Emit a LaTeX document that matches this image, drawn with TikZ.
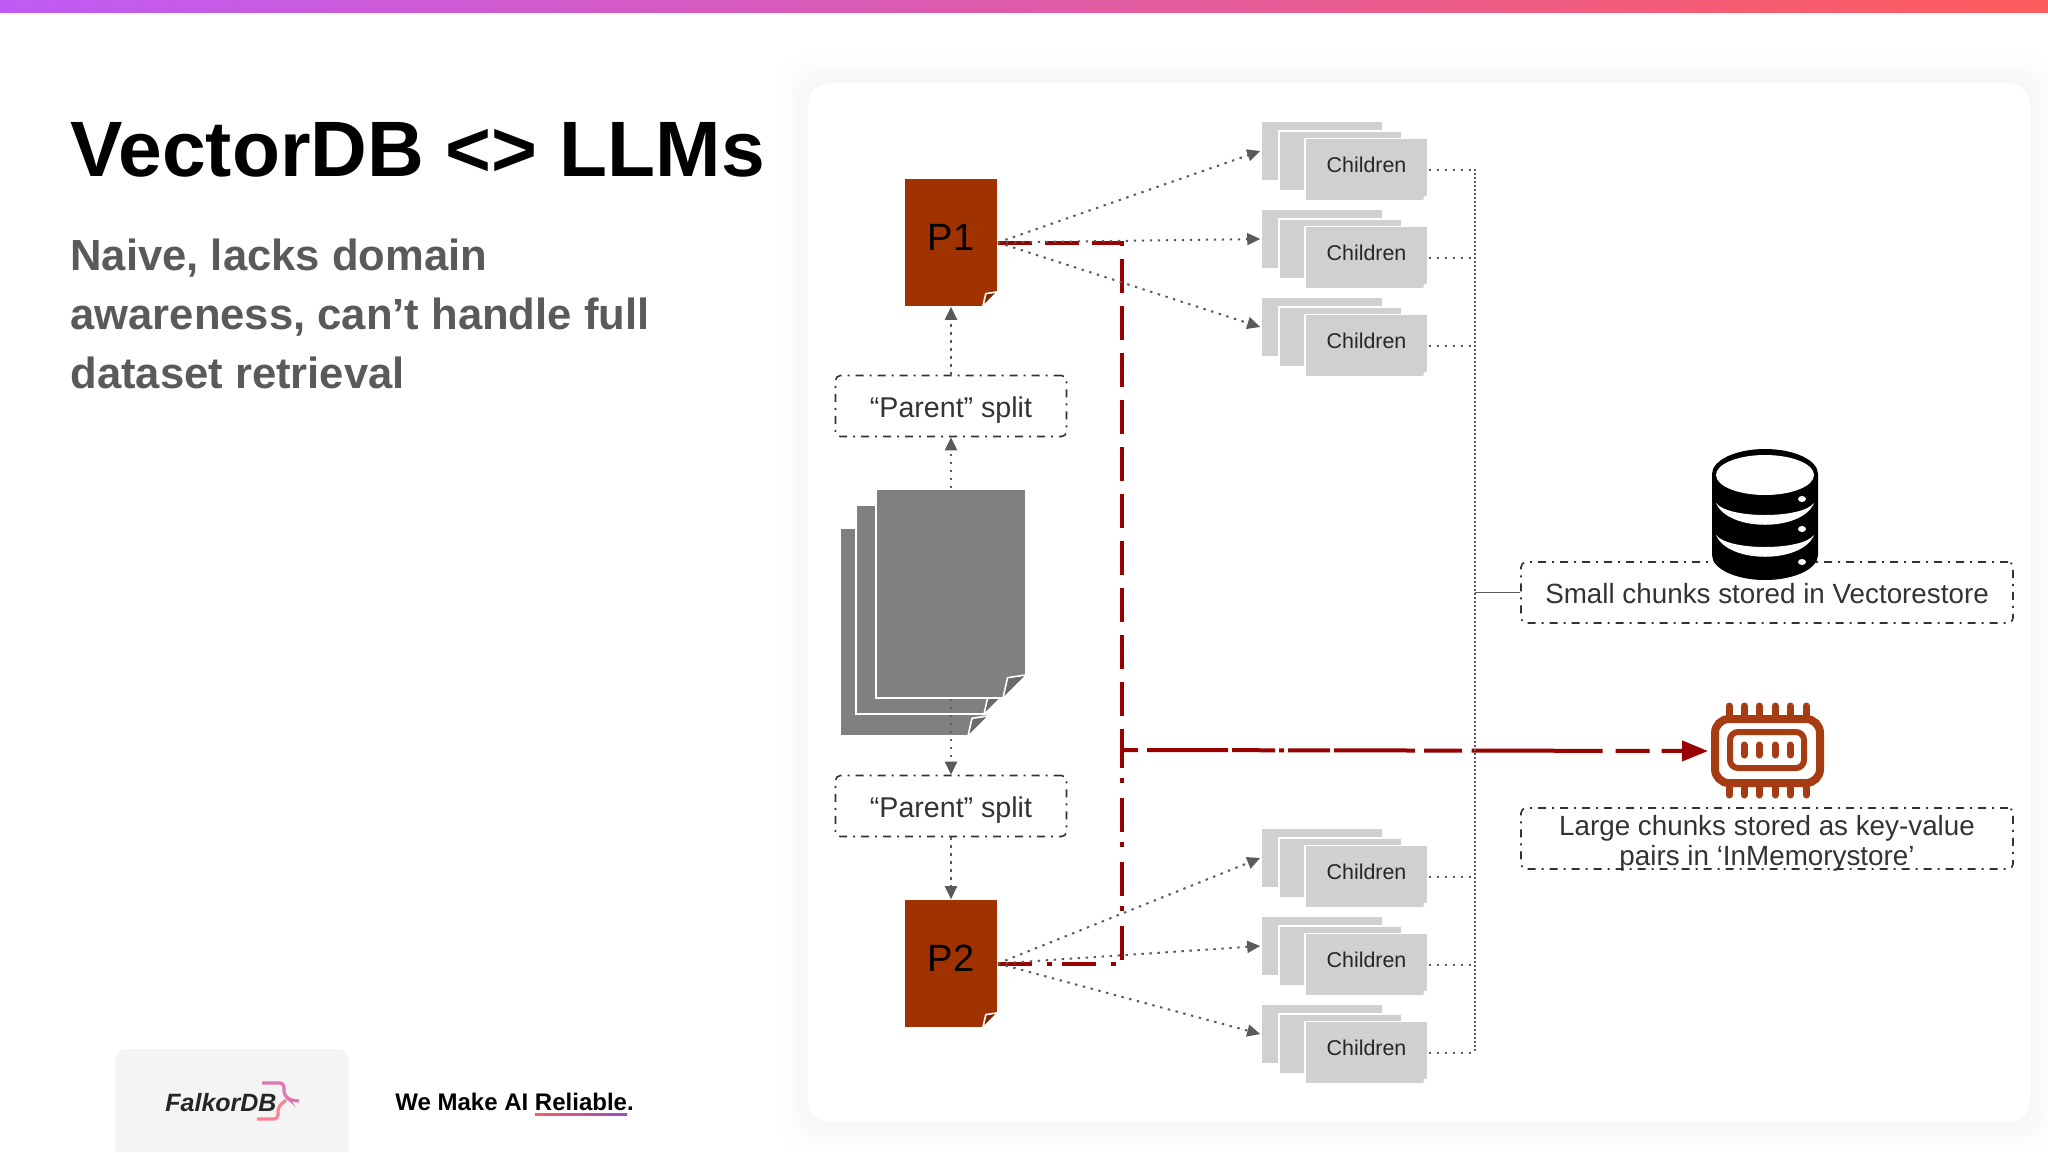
\documentclass[tikz,border=0pt]{standalone}
\usepackage{fontspec}
\setmainfont{Liberation Sans}
\usetikzlibrary{positioning, arrows.meta, calc, backgrounds}

\definecolor{parentred}{HTML}{A03200}
\definecolor{parentfold}{HTML}{7E2700}
\definecolor{chipred}{HTML}{A53C12}
\definecolor{flowred}{HTML}{990000}
\definecolor{docgray}{HTML}{808080}
\definecolor{docfold}{HTML}{6A6A6A}
\definecolor{childgray}{HTML}{D0D0D0}
\definecolor{linegray}{HTML}{5A5A5A}
\definecolor{boxgray}{HTML}{333333}
\definecolor{barleft}{HTML}{BF5BF5}
\definecolor{barmid}{HTML}{E65BA6}
\definecolor{barright}{HTML}{FF5C5C}

% folded corner of a sheet: node, size, colour
\newcommand{\foldcorner}[3]{
    \fill[white] (#1.south east) -- ++(0,-#2) -- ($(#1.south east) + (-#2,0)$) -- cycle;
    \draw[white, fill=#3, line width=0.8pt, line join=round] ($(#1.south east) + (0,-#2)$)
        -- ($(#1.south east) + (-0.8*#2,-0.88*#2)$) -- ($(#1.south east) + (-#2,0)$) -- cycle;
}

\begin{document}
\begin{tikzpicture}[
    x=0.5pt, y=-0.5pt,
    >=Triangle,
    sheet/.style={
        rectangle,
        inner sep=0pt,
        draw=white,
        line width=0.8pt
    },
    parent/.style={
        sheet,
        fill=parentred,
        draw=none,
        minimum width=46pt,
        minimum height=63.5pt,
        text depth=5.2pt,
        font=\fontsize{19}{22}\selectfont,
        text=black
    },
    child/.style={
        sheet,
        fill=childgray,
        minimum width=61pt,
        minimum height=30pt,
    },
    note/.style={
        rectangle,
        draw=boxgray,
        line width=0.8pt,
        dash pattern=on 4pt off 3pt on 1pt off 3pt,
        rounded corners=2.5pt,
        inner sep=0pt,
        align=center,
        text=boxgray,
        font=\fontsize{13.9}{15}\selectfont
    },
    splitbox/.style={
        note,
        minimum width=115.5pt,
        minimum height=30.5pt,
        text height=14.5pt,
        font=\fontsize{14.3}{15}\selectfont
    },
    storebox/.style={
        note,
        minimum width=246pt,
        minimum height=30.5pt
    },
    storetext/.style={
        inner sep=0pt,
        align=center,
        text=boxgray,
        font=\fontsize{13.9}{15}\selectfont
    },
    dots/.style={
        draw=linegray,
        line width=1pt,
        dash pattern=on 1.2pt off 2.8pt
    },
    dotarrow/.style={
        dots,
        -{Triangle[length=6.5pt,width=6pt,fill=linegray]}
    },
    flow/.style={
        draw=flowred,
        line width=2pt
    }
]
    \useasboundingbox (0,0) rectangle (2048,1152);

    % Top bar
    \shade[left color=barleft, middle color=barmid, right color=barright]
        (0,0) rectangle (2048,12);

    % Card and its soft shadow
    \foreach \d/\c in {30/0.4, 25/0.8, 20/1.3, 15/1.8, 10/2.5, 5/3.2} {
        \fill[black!\c, rounded corners=14pt] (808-\d,83-\d) rectangle (2030+\d,1122+\d);
    }
    \fill[white, rounded corners=11pt] (808,83) rectangle (2030,1122);

    % Title
    \node[anchor=base west, inner sep=0pt, font=\fontsize{39.3}{44}\selectfont\bfseries] (title) at (70,176) {VectorDB <> LLMs};
    \node[anchor=north west, inner sep=0pt, align=left, text=linegray, font=\fontsize{21.8}{29.5}\selectfont\bfseries] (subtitle) at (70,238)
        {Naive, lacks domain\\awareness, can’t handle full\\dataset retrieval};

    % Footer
    \fill[black!4.5] (115,1152) [rounded corners=6pt] -- (115,1049) -- (349,1049) [sharp corners] -- (349,1152) -- cycle;
    \node[anchor=base west, inner sep=0pt, text=black!85, font=\fontsize{12.5}{14}\selectfont\bfseries\itshape] (falkor) at (165,1111) {FalkorDB};
    \draw[draw=magenta!60!violet!60!white, line width=1.6pt, rounded corners=2pt] (262,1083) -- (284,1083) -- (284,1095) -- (290,1100) -- (299,1101);
    \draw[draw=orange!60!magenta!70!white, line width=1.6pt, rounded corners=2pt] (257,1119) -- (278,1119) -- (278,1107) -- (286,1100);
    \node[anchor=base west, inner sep=0pt, font=\fontsize{12}{14}\selectfont\bfseries] (slogan) at (395,1110) {We Make AI Reliable.};
    \shade[left color=barright!80!barmid, right color=barleft!80!black] (535,1113) rectangle (627,1115);

    % Source pages
    \node[sheet, fill=docgray, minimum width=74pt, minimum height=104pt] (doc3) at (914,632) {};
    \foldcorner{doc3}{21}{docfold}
    \node[sheet, fill=docgray, minimum width=73.5pt, minimum height=104.5pt] (doc2) at (929.5,609.5) {};
    \foldcorner{doc2}{20}{docfold}
    \node[sheet, fill=docgray, minimum width=75pt, minimum height=104.5pt] (doc1) at (951,593.5) {};
    \foldcorner{doc1}{24}{docfold}

    % Parent chunks
    \node[parent] (p1) at (951,242.5) {P1};
    \foldcorner{p1}{15}{parentfold}
    \node[parent] (p2) at (951,963.5) {P2};
    \foldcorner{p2}{15}{parentfold}

    \node[splitbox] (split1) at (951,406) {“Parent” split};
    \node[splitbox] (split2) at (951,806) {“Parent” split};

    % Children stacks
    \foreach \n/\y in {c1/140, c2/228, c3/316, c4/847, c5/935, c6/1023} {
        \node[child] (\n back) at (1322,\y+11) {};
        \node[child, minimum width=61.5pt] (\n mid) at (1340.5,\y+21) {};
        \node[child, minimum width=61.5pt, minimum height=31pt, text depth=4.6pt, font=\fontsize{10.7}{12}\selectfont, text=black!85] (\n) at (1366.5,\y+29.5) {Children};
        \foldcorner{\n}{5}{childgray}
    }

    % Store boxes
    \node[storebox, text height=11.5pt] (small) at (1767,592.5) {Small chunks stored in Vectorestore};
    \node[storebox] (large) at (1767,838.5) {};
    \node[storetext] (largetext) at ($(large.center) + (0,5)$) {Large chunks stored as key-value\\pairs in ‘InMemorystore’};

    % Vector store icon
    \fill[black] (1712,474) arc[x radius=53, y radius=-25, start angle=180, end angle=0] -- (1818,555)
        arc[x radius=53, y radius=-25, start angle=0, end angle=-180] -- cycle;
    \fill[white] (1765,475) ellipse[x radius=49, y radius=-20];
    \fill[white] (1716,503) .. controls (1728,532) and (1802,532) .. (1814,503)
        .. controls (1802,519) and (1728,519) .. cycle;
    \fill[white] (1716,535) .. controls (1728,564) and (1802,564) .. (1814,535)
        .. controls (1802,551) and (1728,551) .. cycle;
    \foreach \y in {499, 529, 562} {
        \fill[white] (1802,\y) ellipse[x radius=4, y radius=-3];
    }

    % Memory icon
    \node[rectangle, draw=chipred, line width=4pt, rounded corners=7pt, minimum width=52.5pt, minimum height=32pt, inner sep=0pt] (chip) at (1767.5,751) {};
    \node[rectangle, draw=chipred, line width=3pt, rounded corners=4pt, minimum width=37pt, minimum height=18pt, inner sep=0pt] (bank) at (1767,750) {};
    \foreach \x in {1744, 1759, 1775, 1790} {
        \draw[chipred, line width=3.5pt, line cap=round] (\x,745) -- (\x,755);
    }
    \foreach \x in {1729, 1744, 1759, 1775, 1790, 1806} {
        \draw[chipred, line width=3.5pt, line cap=round] (\x,706) -- (\x,716);
        \draw[chipred, line width=3.5pt, line cap=round] (\x,786) -- (\x,795);
    }

    % Large chunks path
    \coordinate (junction) at (1122,750);
    \draw[flow, dash pattern=on 17pt off 6.5pt] (p1.east) -| (junction);
    \draw[flow, dash pattern=on 17pt off 7.5pt on 2.5pt off 5pt] (p2.east) -| (junction);
    \draw[flow, dash pattern=on 8pt off 4.5pt on 40.5pt off 2pt on 21.5pt off 2pt on 2.5pt off 2pt on 21pt off 2pt on 40.5pt off 4.5pt on 19pt off 4.75pt on 65.5pt off 6.5pt on 17pt off 6pt on 60pt,
        -{Triangle[length=13pt,width=10pt,fill=flowred]}, shorten >=1.5pt] (junction) -- (chip.west);

    % Split flow
    \draw[dotarrow] (doc1.north) -- (split1.south);
    \draw[dotarrow] (split1.north) -- (p1.south);
    \draw[dotarrow] (doc1.south) -- (split2.north);
    \draw[dotarrow] (split2.south) -- (p2.north);

    % Parents to children
    \foreach \p/\a/\b/\c in {p1/c1/c2/c3, p2/c4/c5/c6} {
        \draw[dotarrow] (\p.east) -- (\a back.west);
        \draw[dotarrow] (\p.east) -- (\b back.west);
        \draw[dotarrow] (\p.east) -- (\c back.west);
    }

    % Children to store
    \coordinate (bustop) at (1475,169);
    \coordinate (busbot) at (1475,1052);
    \draw[draw=linegray, line width=0.8pt, dash pattern=on 1pt off 1pt] (bustop) -- (busbot);
    \foreach \n in {c1, c2, c3, c4, c5, c6} {
        \draw[dots] (\n.east) -- (\n.east -| bustop);
    }
    \draw[draw=linegray, line width=0.9pt] (small.west -| bustop) -- (small.west);
\end{tikzpicture}
\end{document}
